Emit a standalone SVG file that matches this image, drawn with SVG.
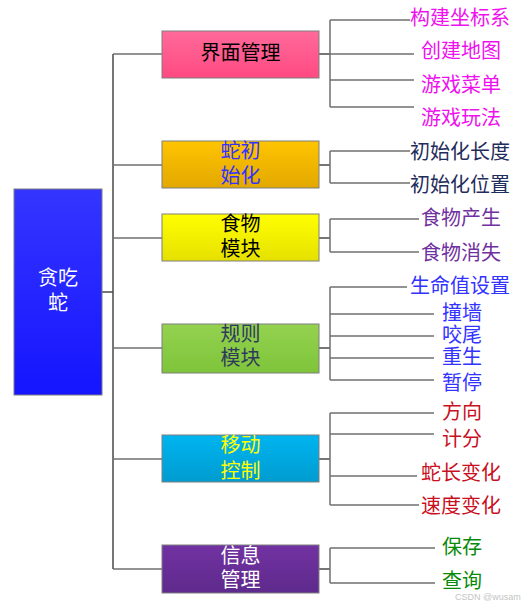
<svg xmlns="http://www.w3.org/2000/svg" width="524" height="604" viewBox="0 0 524 604">
<style>
text{font-family:"Noto Sans CJK SC","Noto Sans",sans-serif;font-size:20px}
.c{text-anchor:middle}
.box{stroke:#7f7f7f;stroke-width:1}
.ln{fill:none;stroke:#707070;stroke-width:1.5}
.dk{fill:none;stroke:#4a4a4a;stroke-width:1.5}
.mag{fill:#ee11ee}
.nav{fill:#1f2d5c}
.pur{fill:#7030a0}
.blu{fill:#3333ff}
.red{fill:#c8101e}
.grn{fill:#0a8a0a}
</style>
<defs>
<linearGradient id="gRoot" x1="0" y1="0" x2="0" y2="1"><stop offset="0" stop-color="#3535ff"/><stop offset="1" stop-color="#1515ff"/></linearGradient>
<linearGradient id="gPink" x1="0" y1="0" x2="0" y2="1"><stop offset="0" stop-color="#ff6a9a"/><stop offset="1" stop-color="#ff4a82"/></linearGradient>
<linearGradient id="gOrg" x1="0" y1="0" x2="0" y2="1"><stop offset="0" stop-color="#ffc400"/><stop offset="1" stop-color="#e2a800"/></linearGradient>
<linearGradient id="gYel" x1="0" y1="0" x2="0" y2="1"><stop offset="0" stop-color="#ffff00"/><stop offset="1" stop-color="#e6e000"/></linearGradient>
<linearGradient id="gGrn" x1="0" y1="0" x2="0" y2="1"><stop offset="0" stop-color="#94d250"/><stop offset="1" stop-color="#7ec43a"/></linearGradient>
<linearGradient id="gCyan" x1="0" y1="0" x2="0" y2="1"><stop offset="0" stop-color="#00b4f0"/><stop offset="1" stop-color="#009cd0"/></linearGradient>
<linearGradient id="gPurp" x1="0" y1="0" x2="0" y2="1"><stop offset="0" stop-color="#7232a2"/><stop offset="1" stop-color="#5e2a8c"/></linearGradient>
</defs>
<rect width="524" height="604" fill="#ffffff"/>
<g id="connectors">
<path class="dk" d="M102 292H113M113 54V569"/>
<path class="ln" d="M113 54H162M113 165H162M113 238H162M113 348H162M113 459H162M113 569H162"/>
<path class="dk" d="M319 54H330M319 165H330M319 238H330M319 348H330M319 459H330M319 569H330"/>
<path class="ln" d="M330 20V107M330 20H410M330 54H414M330 80H414M330 107H414"/>
<path class="ln" d="M330 151V183M330 151H410M330 183H410"/>
<path class="ln" d="M330 219V252M330 219H419M330 252H419"/>
<path class="ln" d="M330 287V380M330 287H407M330 314H434M330 336H434M330 358H434M330 380H434"/>
<path class="ln" d="M330 413V505M330 413H434M330 434H434M330 476H417M330 505H419"/>
<path class="ln" d="M330 548V583M330 548H435M330 583H435"/>
</g>
<g id="root">
<rect class="box" x="14" y="189" width="88" height="206" fill="url(#gRoot)"/>
<text class="c" x="58" y="285" fill="#ffffff">贪吃</text>
<text class="c" x="58" y="310" fill="#ffffff">蛇</text>
</g>
<g id="n1">
<rect class="box" x="162" y="31" width="157" height="47" fill="url(#gPink)"/>
<text class="c" x="240.5" y="60" fill="#000000">界面管理</text>
</g>
<g id="n2">
<rect class="box" x="162" y="141" width="157" height="47" fill="url(#gOrg)"/>
<text class="c" x="240.5" y="158" fill="#3333ff">蛇初</text>
<text class="c" x="240.5" y="183" fill="#3333ff">始化</text>
</g>
<g id="n3">
<rect class="box" x="162" y="214" width="157" height="47" fill="url(#gYel)"/>
<text class="c" x="240.5" y="231" fill="#000000">食物</text>
<text class="c" x="240.5" y="256" fill="#000000">模块</text>
</g>
<g id="n4">
<rect class="box" x="162" y="324" width="157" height="49" fill="url(#gGrn)"/>
<text class="c" x="240.5" y="341" fill="#2e3a5c">规则</text>
<text class="c" x="240.5" y="365" fill="#2e3a5c">模块</text>
</g>
<g id="n5">
<rect class="box" x="162" y="435" width="157" height="47" fill="url(#gCyan)"/>
<text class="c" x="240.5" y="452" fill="#ffff00">移动</text>
<text class="c" x="240.5" y="478" fill="#ffff00">控制</text>
</g>
<g id="n6">
<rect class="box" x="162" y="545" width="157" height="48" fill="url(#gPurp)"/>
<text class="c" x="240.5" y="563" fill="#ffffff">信息</text>
<text class="c" x="240.5" y="587" fill="#ffffff">管理</text>
</g>
<g id="leaves1">
<text class="mag" x="410" y="25">构建坐标系</text>
<text class="mag" x="421" y="58">创建地图</text>
<text class="mag" x="421" y="92">游戏菜单</text>
<text class="mag" x="421" y="125">游戏玩法</text>
</g>
<g id="leaves2">
<text class="nav" x="410" y="159">初始化长度</text>
<text class="nav" x="410" y="192">初始化位置</text>
</g>
<g id="leaves3">
<text class="pur" x="421" y="225">食物产生</text>
<text class="pur" x="421" y="260">食物消失</text>
</g>
<g id="leaves4">
<text class="blu" x="410" y="293">生命值设置</text>
<text class="blu" x="442" y="320">撞墙</text>
<text class="blu" x="442" y="342">咬尾</text>
<text class="blu" x="442" y="364">重生</text>
<text class="blu" x="442" y="390">暂停</text>
</g>
<g id="leaves5">
<text class="red" x="442" y="419">方向</text>
<text class="red" x="442" y="446">计分</text>
<text class="red" x="421" y="480">蛇长变化</text>
<text class="red" x="421" y="513">速度变化</text>
</g>
<g id="leaves6">
<text class="grn" x="442" y="554">保存</text>
<text class="grn" x="442" y="588">查询</text>
</g>
<text x="455" y="600" style="font-family:'Liberation Sans',sans-serif;font-size:9px" fill="#c4c4c4">CSDN @wusam</text>
</svg>
